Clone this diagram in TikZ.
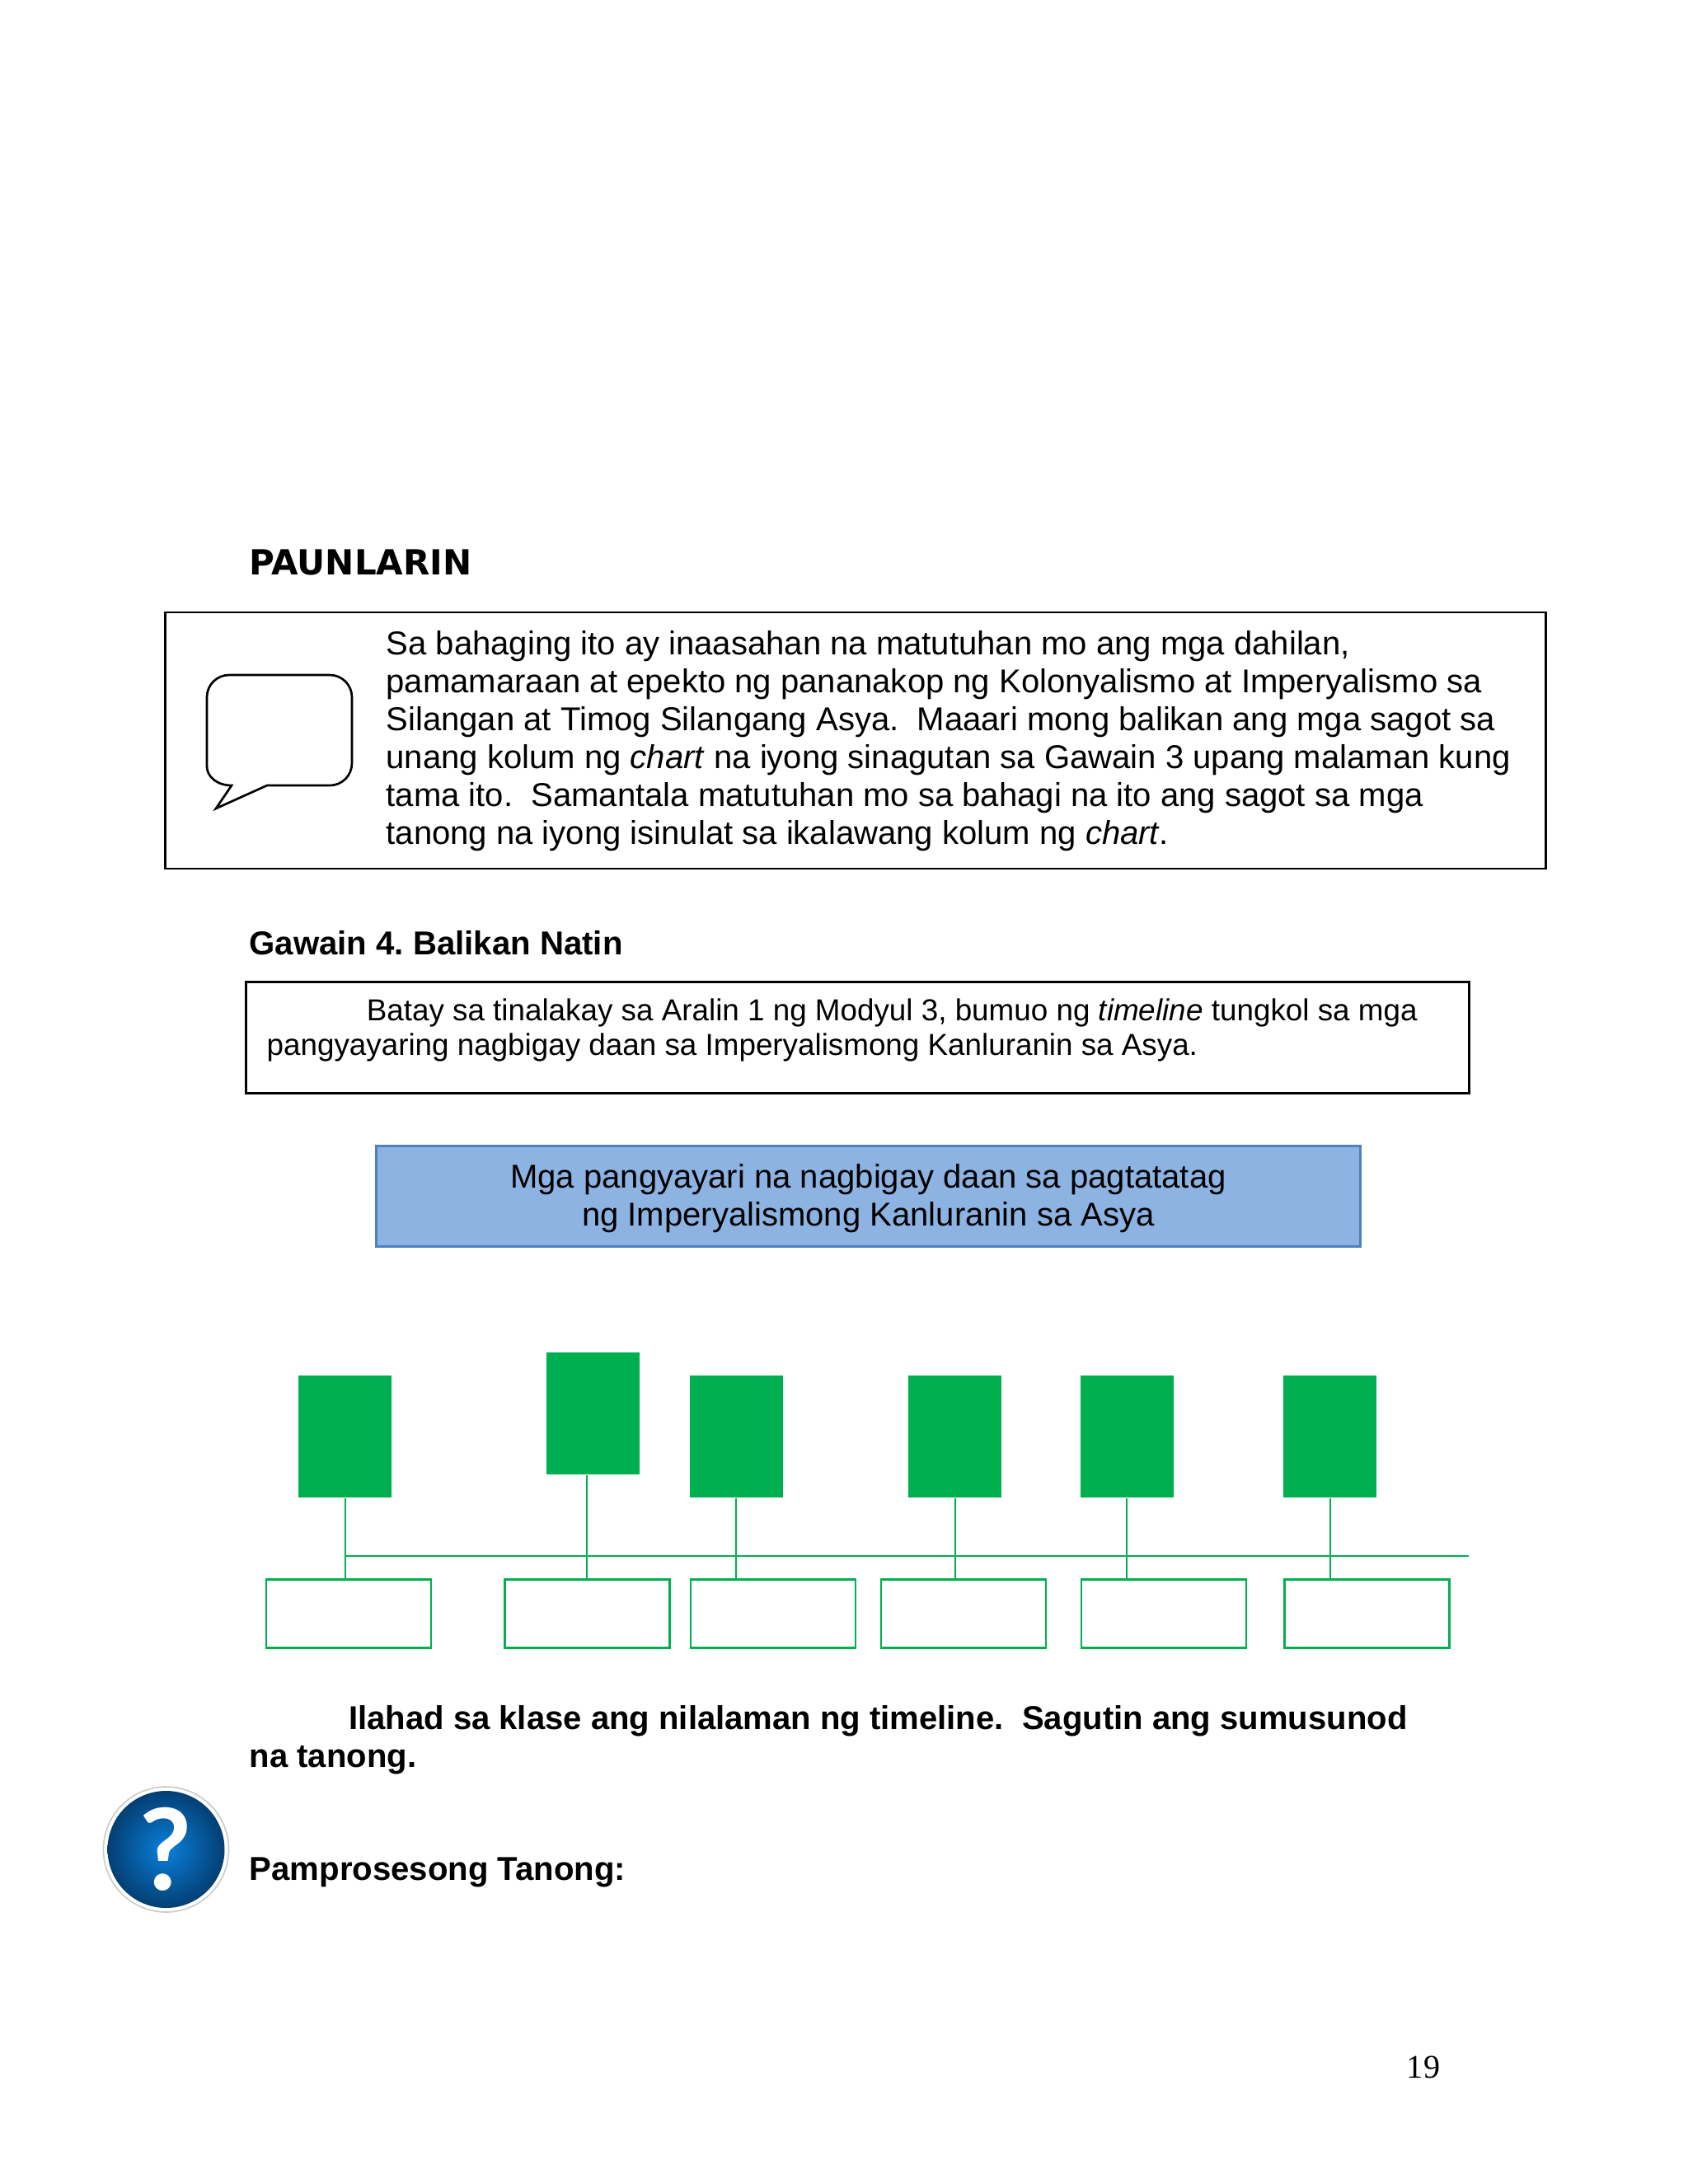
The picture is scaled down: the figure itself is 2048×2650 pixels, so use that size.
\documentclass[tikz,border=0pt]{standalone}
\usepackage{fontspec}
\setmainfont{Liberation Sans}
\newfontfamily\headfont{DejaVu Sans}
\newfontfamily\markfont{Lato}
\newfontfamily\pagefont{Liberation Serif}
\usetikzlibrary{positioning,calc}
\definecolor{Leaf}{HTML}{00B050}
\definecolor{Sky}{HTML}{8DB3E2}
\definecolor{SkyLine}{HTML}{4F81BD}
\definecolor{DeepBlue}{HTML}{033F73}
\definecolor{GlowBlue}{HTML}{0A80DC}
\tikzset{
  size/.style 2 args={minimum width=#1*.29883pt,minimum height=#2*.29883pt,inner sep=0pt},
  frame/.style={draw=black,line width=.75pt,fill=white},
  title/.style={draw=SkyLine,line width=.9pt,fill=Sky},
  event/.style={fill=Leaf,draw=none,size={113}{148}},
  slot/.style={draw=Leaf,line width=.75pt,fill=white,size={200}{83}},
  stem/.style={draw=Leaf,line width=.85pt},
  body/.style={font=\fontsize{11.97}{13.75}\selectfont,align=left,inner sep=0pt},
  small/.style={font=\fontsize{11}{12.6}\selectfont,align=left,inner sep=0pt},
  head/.style={font=\fontsize{12}{14}\selectfont\bfseries,align=left,inner sep=0pt}
}
\begin{document}
\frenchspacing
\begin{tikzpicture}[x=.29883pt,y=-.29883pt]
    \useasboundingbox (0,0) rectangle (2048,2650);
    \fill[white] (0,0) rectangle (2048,2650);
    \node[head,anchor=base west,font=\fontsize{12.55}{14}\selectfont\headfont\bfseries] (heading) at (302,697) {PAUNLARIN};
    \node[frame,size={1675}{311}] (intro) at (1038,898.5) {};
    \draw[line width=.8pt,fill=white] (324,953) -- (400,953) .. controls (415,953) and (427,941) .. (427,926) -- (427,846) .. controls (427,831) and (415,819) .. (400,819) -- (278,819) .. controls (263,819) and (251,831) .. (251,846) -- (251,930) .. controls (251,942) and (263,953) .. (281,953) -- (262,981) -- cycle;
    \node[body,anchor=north west] (introtext) at (468,765) {Sa bahaging ito ay inaasahan na matutuhan mo ang mga dahilan,\\
      pamamaraan at epekto ng pananakop ng Kolonyalismo at Imperyalismo sa\\
      Silangan at Timog Silangang Asya.\ \ Maaari mong balikan ang mga sagot sa\\
      unang kolum ng \textit{chart} na iyong sinagutan sa Gawain 3 upang malaman kung\\
      tama ito.\ \ Samantala matutuhan mo sa bahagi na ito ang sagot sa mga\\
      tanong na iyong isinulat sa ikalawang kolum ng \textit{chart}.};
    \node[head,anchor=base west] (gawain) at (302,1158) {Gawain 4. Balikan Natin};
    \node[frame,size={1484}{135}] (task) at (1040.5,1259) {};
    \node[small,anchor=north west] (tasktext) at (323,1211) {\hspace*{36.2pt}Batay sa tinalakay sa Aralin 1 ng Modyul 3, bumuo ng \textit{timeline} tungkol sa mga\\
      pangyayaring nagbigay daan sa Imperyalismong Kanluranin sa Asya.};
    \node[title,size={1194}{122}] (banner) at (1053.5,1451) {};
    \node[inner sep=0pt,font=\fontsize{11.97}{13.75}\selectfont,align=center] (bannertext) at (1053.5,1454) {Mga pangyayari na nagbigay daan sa pagtatatag\\ng Imperyalismong Kanluranin sa Asya};
    \node[event] (e1) at (418.5,1743) {};
    \node[event] (e2) at (719.5,1715) {};
    \node[event] (e3) at (893,1743) {};
    \node[event] (e4) at (1158.5,1743) {};
    \node[event] (e5) at (1367,1743) {};
    \node[event] (e6) at (1613,1743) {};
    \node[slot] (s1) at (423,1958) {};
    \node[slot] (s2) at (712.5,1958) {};
    \node[slot] (s3) at (938,1958) {};
    \node[slot] (s4) at (1169,1958) {};
    \node[slot] (s5) at (1412,1958) {};
    \node[slot] (s6) at (1658.5,1958) {};
    \coordinate (lineend) at (1782,1888);
    \coordinate (t1) at (419,1888);
    \coordinate (t2) at (712,1888);
    \coordinate (t3) at (893,1888);
    \coordinate (t4) at (1159,1888);
    \coordinate (t5) at (1367,1888);
    \coordinate (t6) at (1614,1888);
    \draw[stem] (t1)--(lineend);
    \draw[stem] (t1 |- e1.south)--(t1 |- s1.north);
    \draw[stem] (t2 |- e2.south)--(t2 |- s2.north);
    \draw[stem] (t3 |- e3.south)--(t3 |- s3.north);
    \draw[stem] (t4 |- e4.south)--(t4 |- s4.north);
    \draw[stem] (t5 |- e5.south)--(t5 |- s5.north);
    \draw[stem] (t6 |- e6.south)--(t6 |- s6.north);
    \node[head,anchor=north west,font=\fontsize{11.97}{13.75}\selectfont\bfseries] (ilahad) at (302,2069) {\hspace*{36pt}Ilahad sa klase ang nilalaman ng timeline.\ \ Sagutin ang sumusunod\\na tanong.};
    \node[circle,draw=black!20,line width=.5pt,fill=white,minimum size=152*.29883pt,inner sep=0pt] (ring) at (201.5,2244) {};
    \node[circle,inner color=GlowBlue,outer color=DeepBlue,minimum size=142*.29883pt,inner sep=0pt,text=white,font=\fontsize{41}{41}\selectfont\markfont\bfseries] (help) at (201.5,2244) {?};
    \node[head,anchor=base west] (tanong) at (302,2281) {Pamprosesong Tanong:};
    \node[anchor=base,inner sep=0pt,font=\fontsize{12}{14}\selectfont\pagefont] (pageno) at (1727,2521) {19};
  \end{tikzpicture}
\end{document}
